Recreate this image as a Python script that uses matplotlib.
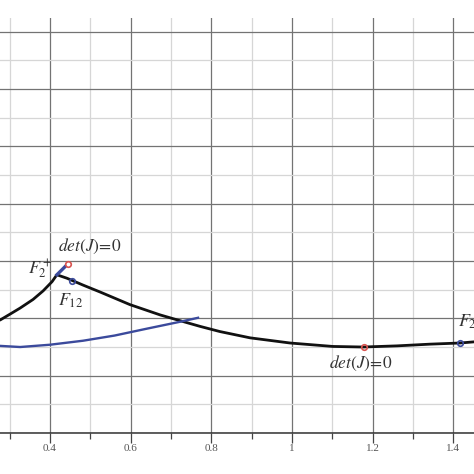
import matplotlib.pyplot as plt
from matplotlib.ticker import MultipleLocator

plt.rcParams['mathtext.fontset'] = 'stix'
plt.rcParams['font.family'] = 'Liberation Serif'

# black solution branch (left rising part, then long falling part)
black_x = [0.276, 0.300, 0.326, 0.358, 0.383, 0.405, 0.417,
           0.442, 0.482, 0.524, 0.598, 0.673, 0.722, 0.772,
           0.821, 0.896, 0.995, 1.101, 1.176, 1.260, 1.342,
           1.416, 1.451]
black_y = [1.97, 2.07, 2.18, 2.33, 2.48, 2.64, 2.76,
           2.70, 2.58, 2.46, 2.24, 2.06, 1.96, 1.86,
           1.77, 1.66, 1.57, 1.51, 1.50, 1.52, 1.55,
           1.57, 1.59]

# blue branch
blue_x = [0.276, 0.326, 0.400, 0.482, 0.560, 0.640, 0.722, 0.767]
blue_y = [1.52, 1.50, 1.54, 1.61, 1.70, 1.82, 1.94, 2.01]

# short blue piece at the cusp
cusp_x = [0.417, 0.437]
cusp_y = [2.76, 2.90]

# special points
det_pts_x = [0.445, 1.178]
det_pts_y = [2.95, 1.50]
f_pts_x = [0.454, 1.416]
f_pts_y = [2.66, 1.57]

xticks = [0.4, 0.6, 0.8, 1.0, 1.2, 1.4]
xtick_labels = ['0.4', '0.6', '0.8', '1', '1.2', '1.4']

fig = plt.figure(figsize=(4.74, 4.74), dpi=100)
ax = fig.add_axes([0, 41 / 474, 1, 415 / 474])

ax.set_xlim(0.276, 1.451)
ax.set_ylim(0, 7.24)

# grid like the graph paper of the original
ax.xaxis.set_major_locator(MultipleLocator(0.2))
ax.xaxis.set_minor_locator(MultipleLocator(0.1))
ax.yaxis.set_major_locator(MultipleLocator(1))
ax.yaxis.set_minor_locator(MultipleLocator(0.5))
ax.grid(which='major', color='#737373', lw=0.9)
ax.grid(which='minor', color='#d6d6d6', lw=0.9)
ax.set_axisbelow(True)

for s in ['left', 'top', 'right']:
    ax.spines[s].set_visible(False)
ax.spines['bottom'].set_color('#333333')
ax.spines['bottom'].set_linewidth(1.1)

ax.set_xticks(xticks)
ax.set_xticklabels(xtick_labels)
ax.tick_params(axis='x', which='major', length=7, width=0.9, color='#444444',
               labelsize=8, labelcolor='#555555', pad=1)
ax.tick_params(axis='x', which='minor', length=4, width=0.9, color='#444444')
ax.tick_params(axis='y', which='both', left=False, labelleft=False)

ax.plot(black_x, black_y, color='#111111', lw=2.0, solid_capstyle='round',
        solid_joinstyle='round')
ax.plot(blue_x, blue_y, color='#3b4a9c', lw=1.7, solid_joinstyle='round')
ax.plot(cusp_x, cusp_y, color='#3b4a9c', lw=2.4)

ax.plot(det_pts_x, det_pts_y, 'o', ms=4, mfc='none', mec='#d9534f', mew=1.2)
ax.plot(f_pts_x, f_pts_y, 'o', ms=4, mfc='none', mec='#3b4a9c', mew=1.2)

tc = '#333333'
ax.text(0.499, 3.26, r'$det(J)\!=\!0$', fontsize=12.5, color=tc, ha='center', va='center')
ax.text(1.171, 1.22, r'$det(J)\!=\!0$', fontsize=12.5, color=tc, ha='center', va='center')
ax.text(0.345, 2.85, r'$F_2^+$', fontsize=13, color=tc, ha='left', va='center')
ax.text(0.420, 2.30, r'$F_{12}$', fontsize=13, color=tc, ha='left', va='center')
# cut off by the right edge, as in the original
ax.text(1.411, 1.94, r'$F_2$', fontsize=13, color=tc, ha='left', va='center')

fig.savefig('out.png', dpi=100)
